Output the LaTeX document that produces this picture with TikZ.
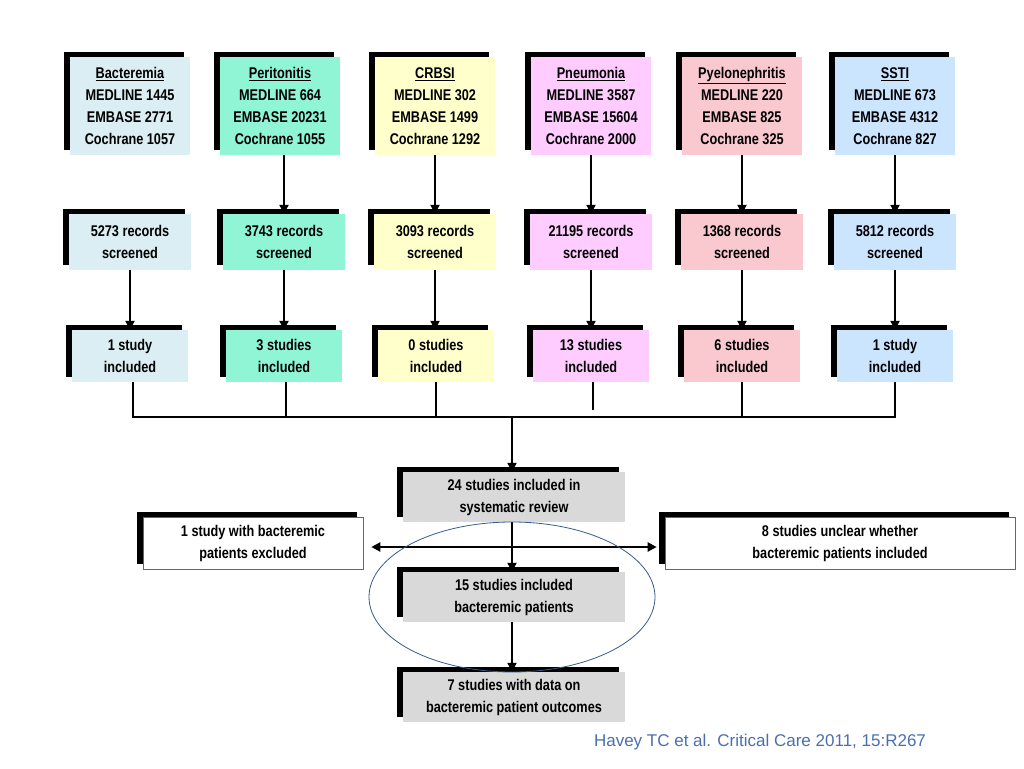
\documentclass[tikz,border=0pt]{standalone}
\usepackage{fontspec}
\setmainfont{Liberation Sans}
\newfontfamily\narrowf{Liberation Sans}[FakeStretch=0.82]
\usetikzlibrary{arrows.meta,calc}
\definecolor{cBac}{HTML}{DAEEF3}
\definecolor{cPer}{HTML}{8FF5D5}
\definecolor{cCR}{HTML}{FFFFCC}
\definecolor{cPn}{HTML}{FFCCFF}
\definecolor{cPy}{HTML}{F9C9CF}
\definecolor{cSS}{HTML}{CCE5FF}
\definecolor{cGr}{HTML}{D9D9D9}
\definecolor{cCite}{HTML}{4A6FB0}
\tikzset{
  bx/.style={fill=#1, inner sep=0pt, align=center, font=\narrowf\bfseries\fontsize{15.5}{22}\selectfont,
    preaction={fill=black, transform canvas={shift={(-6pt,5pt)}}}},
  wbx/.style={fill=white, draw=black!60, line width=0.6pt, inner sep=0pt, align=center, font=\narrowf\bfseries\fontsize{15.5}{22}\selectfont,
    preaction={fill=black, transform canvas={shift={(-6pt,5pt)}}}},
  arr/.style={line width=2.2pt, -{Triangle[length=9pt,width=9pt]}},
  ln/.style={line width=2.2pt},
}
\begin{document}
\begin{tikzpicture}[x=1pt,y=-1pt]
\useasboundingbox (0,0) rectangle (1024,768);
\foreach \n/\x/\c/\t/\m/\e/\k in {a/130/cBac/Bacteremia/1445/2771/1057, b/280/cPer/Peritonitis/664/20231/1055, c/435/cCR/CRBSI/302/1499/1292, d/591/cPn/Pneumonia/3587/15604/2000, e/742/cPy/Pyelonephritis/220/825/325, f/895/cSS/SSTI/673/4312/827}{
  \node[bx=\c, minimum width=120, minimum height=98] (t\n) at (\x,106) {\underline{\t}\\MEDLINE \m\\EMBASE \e\\Cochrane \k};
}
\foreach \n/\x/\c/\t in {a/130/cBac/5273, b/284/cPer/3743, c/435/cCR/3093, d/591/cPn/21195, e/742/cPy/1368, f/895/cSS/5812}{
  \node[bx=\c, minimum width=122, minimum height=56] (s\n) at (\x,242) {\t{} records\\screened};
}
\foreach \n/\x/\c/\t in {a/130/cBac/1 study, b/284/cPer/3 studies, c/436/cCR/0 studies, d/591/cPn/13 studies, e/742/cPy/6 studies, f/895/cSS/1 study}{
  \node[bx=\c, minimum width=116, minimum height=52] (i\n) at (\x,356) {\t\\included};
}
\foreach \n in {b,c,d,e,f}{ \draw[arr] (s\n.north |- t\n.south) -- (s\n.north); }
\foreach \n in {a,b,c,d,e,f}{ \draw[arr] (s\n.south) -- (s\n.south |- i\n.north); }
\coordinate (bl) at (133,417);
\coordinate (br) at (895,417);
\coordinate (bm) at (512,417);
\draw[ln, line cap=rect] (bl) -- (br);
\foreach \n/\x in {a/133,b/286,c/436,e/742,f/895}{ \draw[ln] (\x,382) -- (\x,417); }
\draw[ln] (593,382) -- (593,410);
\node[bx=cGr, minimum width=222, minimum height=50] (r24) at (514,497) {24 studies included in\\systematic review};
\node[bx=cGr, minimum width=222, minimum height=50] (r15) at (514,597) {15 studies included\\bacteremic patients};
\node[bx=cGr, minimum width=222, minimum height=50] (r7) at (514,697) {7 studies with data on\\bacteremic patient outcomes};
\node[wbx, minimum width=220, minimum height=52] (lx) at (253,543) {1 study with bacteremic\\patients excluded};
\node[wbx, minimum width=350, minimum height=52] (rx) at (840,543) {8 studies unclear whether\\bacteremic patients included};
\draw[arr] (bm) -- (bm |- r24.north);
\draw[arr] (bm |- r24.south) -- (bm |- r15.north);
\draw[arr] (bm |- r15.south) -- (bm |- r7.north);
\coordinate (dm) at (512,547);
\draw[line width=2.2pt, {Triangle[length=9pt,width=9pt]}-{Triangle[length=9pt,width=9pt]}] ($(lx.east |- dm)+(8,0)$) -- ($(rx.west |- dm)+(-8,0)$);
\draw[color=cCite!80!black, line width=0.8pt] (512,597) ellipse [x radius=143, y radius=75];
\node[text=cCite, font=\fontsize{17}{20}\selectfont] (cite) at (760,742) {Havey TC et al. Critical Care 2011, 15:R267};
\end{tikzpicture}
\end{document}
